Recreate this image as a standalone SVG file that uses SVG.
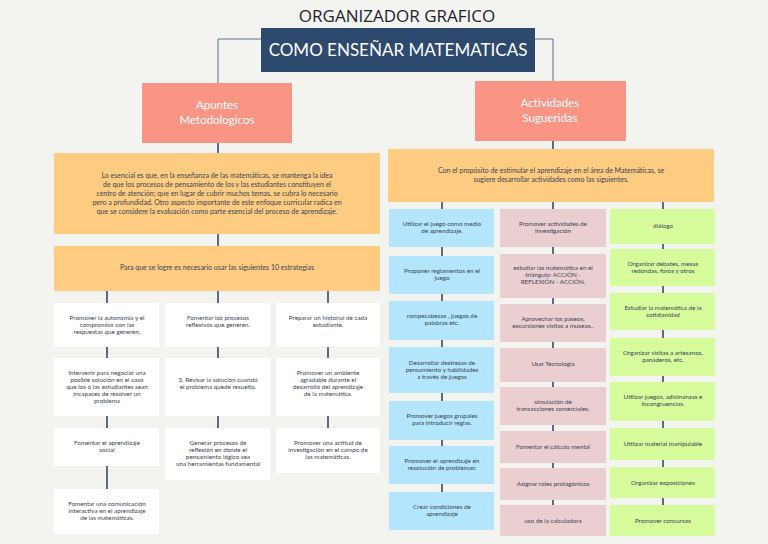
<svg xmlns="http://www.w3.org/2000/svg" width="768" height="544" viewBox="0 0 768 544">
<style>
text{font-family:"Lato","Open Sans",sans-serif;fill:#3c4458;text-anchor:middle}
.s{font-size:6.3px}
.w{fill:#fff}.y{fill:#fdcc80}.b{fill:#b3e5fc}.p{fill:#ebcfd0}.g{fill:#d6fc9c}.r{fill:#fa9585}
#conn line{stroke:#2b3e5c;stroke-width:1.5}
#conn line.t{stroke:#5c6f8c;stroke-width:1}
</style>
<rect width="768" height="544" fill="#f3f3ef"/>
<g id="conn">
<line class="t" x1="218" y1="39" x2="553" y2="39"/><line class="t" x1="218" y1="39" x2="218" y2="83"/><line class="t" x1="553" y1="39" x2="553" y2="81"/>
<line x1="218" y1="143" x2="218" y2="153"/><line x1="218" y1="234" x2="218" y2="246"/>
<line x1="107" y1="291" x2="107" y2="303"/><line x1="218" y1="291" x2="218" y2="303"/><line x1="328" y1="291" x2="328" y2="303"/>
<line x1="107" y1="347" x2="107" y2="358"/><line x1="218" y1="347" x2="218" y2="358"/><line x1="328" y1="347" x2="328" y2="358"/>
<line x1="107" y1="416" x2="107" y2="428"/><line x1="218" y1="416" x2="218" y2="428"/><line x1="328" y1="416" x2="328" y2="428"/>
<line x1="107" y1="466" x2="107" y2="489"/>
<line x1="553" y1="141" x2="553" y2="149"/>
<line x1="442" y1="202" x2="442" y2="209"/><line x1="553" y1="202" x2="553" y2="209"/><line x1="663" y1="202" x2="663" y2="209"/>
<line x1="442" y1="247" x2="442" y2="256"/><line x1="442" y1="294" x2="442" y2="301"/><line x1="442" y1="340" x2="442" y2="347"/><line x1="442" y1="393" x2="442" y2="401"/><line x1="442" y1="440" x2="442" y2="446"/><line x1="442" y1="484" x2="442" y2="492"/>
<line x1="553" y1="247" x2="553" y2="254"/><line x1="553" y1="298" x2="553" y2="304"/><line x1="553" y1="342" x2="553" y2="348"/><line x1="553" y1="382" x2="553" y2="387"/><line x1="553" y1="425" x2="553" y2="431"/><line x1="553" y1="463" x2="553" y2="468"/><line x1="553" y1="500" x2="553" y2="505"/>
<line x1="663" y1="244" x2="663" y2="249"/><line x1="663" y1="286" x2="663" y2="293"/><line x1="663" y1="330" x2="663" y2="338"/><line x1="663" y1="376" x2="663" y2="382"/><line x1="663" y1="421" x2="663" y2="428"/><line x1="663" y1="460" x2="663" y2="467"/><line x1="663" y1="498" x2="663" y2="505"/>
</g>
<g id="title"><text x="397" y="22" style="font-size:17px;font-weight:500;fill:#1e2230;font-family:'Open Sans',sans-serif">ORGANIZADOR GRAFICO</text></g>
<g id="header"><rect x="261" y="28" width="274" height="44" fill="#2d4a6e"/><text x="398" y="56" style="font-size:17px;fill:#fff">COMO ENSEÑAR MATEMATICAS</text></g>
<g id="apuntes"><rect class="r" x="142" y="83" width="150" height="60"/><text x="217" y="109" style="font-size:11.5px;fill:#fff">Apuntes</text><text x="217" y="124" style="font-size:11.5px;fill:#fff">Metodologicos</text></g>
<g id="actividades"><rect class="r" x="475" y="81" width="151" height="60"/><text x="550" y="107" style="font-size:11.5px;fill:#fff">Actividades</text><text x="550" y="122" style="font-size:11.5px;fill:#fff">Sugueridas</text></g>
<g id="esencial"><rect class="y" x="54" y="153" width="326" height="81"/>
<text x="217" y="178" style="font-size:7px">Lo esencial es que, en la enseñanza de las matemáticas, se mantenga la idea</text>
<text x="217" y="187" style="font-size:7px">de que los procesos de pensamiento de los y las estudiantes constituyen el</text>
<text x="217" y="196" style="font-size:7px">centro de atención; que en lugar de cubrir muchos temas, se cubra lo necesario</text>
<text x="217" y="205" style="font-size:7px">pero a profundidad. Otro aspecto importante de este enfoque curricular radica en</text>
<text x="217" y="214" style="font-size:7px">que se considere la evaluación como parte esencial del proceso de aprendizaje.</text></g>
<g id="estrategias"><rect class="y" x="54" y="246" width="326" height="45"/><text x="217" y="270" style="font-size:7px">Para que se logre es necesario usar las siguientes 10 estrategias</text></g>
<g id="l1"><rect class="w" x="54" y="303" width="105" height="44"/><text class="s" x="107" y="320">Promover la autonomía y el</text><text class="s" x="107" y="327">compromiso con las</text><text class="s" x="107" y="334">respuestas que generen.</text></g>
<g id="l2"><rect class="w" x="165" y="303" width="105" height="44"/><text class="s" x="218" y="320">Fomentar los procesos</text><text class="s" x="218" y="327">reflexivos que generen.</text></g>
<g id="l3"><rect class="w" x="276" y="303" width="104" height="44"/><text class="s" x="328" y="320">Preparar un historial de cada</text><text class="s" x="328" y="327">estudiante.</text></g>
<g id="l4"><rect class="w" x="54" y="358" width="105" height="58"/><text class="s" x="107" y="375">Intervenir para negociar una</text><text class="s" x="107" y="382">posible solución en el caso</text><text class="s" x="107" y="389">que los o las estudiantes sean</text><text class="s" x="107" y="396">incapaces de resolver un</text><text class="s" x="107" y="403">problema</text></g>
<g id="l5"><rect class="w" x="165" y="358" width="105" height="58"/><text class="s" x="218" y="382">5. Revisar la solución cuando</text><text class="s" x="218" y="389">el problema quede resuelto.</text></g>
<g id="l6"><rect class="w" x="276" y="358" width="104" height="58"/><text class="s" x="328" y="375">Promover un ambiente</text><text class="s" x="328" y="382">agradable durante el</text><text class="s" x="328" y="389">desarrollo del aprendizaje</text><text class="s" x="328" y="396">de la matemática.</text></g>
<g id="l7"><rect class="w" x="54" y="428" width="105" height="38"/><text class="s" x="107" y="445">Fomentar el aprendizaje</text><text class="s" x="107" y="452">social</text></g>
<g id="l8"><rect class="w" x="165" y="428" width="105" height="52"/><text class="s" x="218" y="445">Generar procesos de</text><text class="s" x="218" y="452">reflexión en donde el</text><text class="s" x="218" y="459">pensamiento lógico sea</text><text class="s" x="218" y="466">una herramientas fundamental</text></g>
<g id="l9"><rect class="w" x="276" y="428" width="104" height="45"/><text class="s" x="328" y="445">Promover una actitud de</text><text class="s" x="328" y="452">investigación en el campo de</text><text class="s" x="328" y="459">las matemáticas.</text></g>
<g id="l10"><rect class="w" x="54" y="489" width="105" height="45"/><text class="s" x="107" y="506">Fomentar una comunicación</text><text class="s" x="107" y="513">interactiva en el aprendizaje</text><text class="s" x="107" y="520">de las matemáticas.</text></g>
<g id="proposito"><rect class="y" x="388" y="149" width="326" height="53"/><text x="551" y="173" style="font-size:7px">Con el propósito de estimular el aprendizaje en el área de Matemáticas, se</text><text x="551" y="182" style="font-size:7px">sugiere desarrollar actividades como las siguientes.</text></g>
<g id="b1"><rect class="b" x="389" y="209" width="105" height="38"/><text class="s" x="442" y="226">Utilizar el juego como medio</text><text class="s" x="442" y="233">de aprendizaje.</text></g>
<g id="b2"><rect class="b" x="389" y="256" width="105" height="38"/><text class="s" x="442" y="273">Proponer reglamentos en el</text><text class="s" x="442" y="280">juego</text></g>
<g id="b3"><rect class="b" x="389" y="301" width="105" height="39"/><text class="s" x="442" y="318">rompecabezas , juegos de</text><text class="s" x="442" y="325">palabras etc.</text></g>
<g id="b4"><rect class="b" x="389" y="347" width="105" height="46"/><text class="s" x="442" y="365">Desarrollar destrezas de</text><text class="s" x="442" y="372">pensamiento y habilidades</text><text class="s" x="442" y="379">a través de juegos</text></g>
<g id="b5"><rect class="b" x="389" y="401" width="105" height="39"/><text class="s" x="442" y="418">Promover juegos grupales</text><text class="s" x="442" y="425">para introducir reglas.</text></g>
<g id="b6"><rect class="b" x="389" y="446" width="105" height="38"/><text class="s" x="442" y="463">Promover el aprendizaje en</text><text class="s" x="442" y="470">resolución de problemas:</text></g>
<g id="b7"><rect class="b" x="389" y="492" width="105" height="38"/><text class="s" x="442" y="509">Crear condiciones de</text><text class="s" x="442" y="516">aprendizaje</text></g>
<g id="p1"><rect class="p" x="500" y="209" width="106" height="38"/><text class="s" x="553" y="226">Promover actividades de</text><text class="s" x="553" y="233">investigación</text></g>
<g id="p2"><rect class="p" x="500" y="254" width="106" height="44"/><text class="s" x="553" y="270">estudiar las matemática en el</text><text class="s" x="553" y="277">triángulo: ACCIÓN -</text><text class="s" x="553" y="284">REFLEXIÓN - ACCIÓN.</text></g>
<g id="p3"><rect class="p" x="500" y="304" width="106" height="38"/><text class="s" x="553" y="321">Aprovechar los paseos,</text><text class="s" x="553" y="328">excursiones visitas a museos..</text></g>
<g id="p4"><rect class="p" x="500" y="348" width="106" height="34"/><text class="s" x="553" y="366">Usar Tecnología</text></g>
<g id="p5"><rect class="p" x="500" y="387" width="106" height="38"/><text class="s" x="553" y="404">simulación de</text><text class="s" x="553" y="411">transacciones comerciales.</text></g>
<g id="p6"><rect class="p" x="500" y="431" width="106" height="32"/><text class="s" x="553" y="449">Fomentar el cálculo mental</text></g>
<g id="p7"><rect class="p" x="500" y="468" width="106" height="32"/><text class="s" x="553" y="486">Asignar roles protagónicos</text></g>
<g id="p8"><rect class="p" x="500" y="505" width="106" height="31"/><text class="s" x="553" y="523">uso de la calculadora</text></g>
<g id="g1"><rect class="g" x="610" y="209" width="105" height="35"/><text class="s" x="663" y="228">diálogo</text></g>
<g id="g2"><rect class="g" x="610" y="249" width="105" height="37"/><text class="s" x="663" y="266">Organizar debates, mesas</text><text class="s" x="663" y="273">redondas, foros y otros</text></g>
<g id="g3"><rect class="g" x="610" y="293" width="105" height="37"/><text class="s" x="663" y="310">Estudiar la matemática de la</text><text class="s" x="663" y="317">cotidianidad</text></g>
<g id="g4"><rect class="g" x="610" y="338" width="105" height="38"/><text class="s" x="663" y="355">Organizar visitas a artesanos,</text><text class="s" x="663" y="362">panaderos, etc.</text></g>
<g id="g5"><rect class="g" x="610" y="382" width="105" height="39"/><text class="s" x="663" y="399">Utilizar juegos, adivinanzas e</text><text class="s" x="663" y="406">incongruencias.</text></g>
<g id="g6"><rect class="g" x="610" y="428" width="105" height="32"/><text class="s" x="663" y="446">Utilizar material manipulable</text></g>
<g id="g7"><rect class="g" x="610" y="467" width="105" height="31"/><text class="s" x="663" y="485">Organizar exposiciones</text></g>
<g id="g8"><rect class="g" x="610" y="505" width="105" height="31"/><text class="s" x="663" y="523">Promover concursos</text></g>
</svg>
